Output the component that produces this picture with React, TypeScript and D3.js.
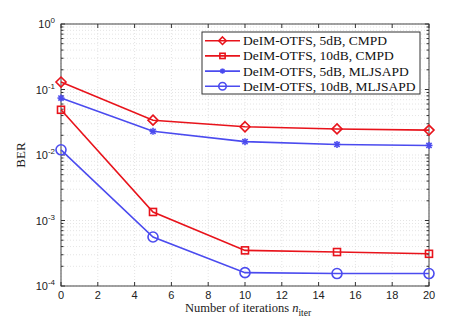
import React from "react";
import * as d3 from "d3";

const iterations = [0, 5, 10, 15, 20];
const cmpd5 = [0.13, 0.034, 0.027, 0.025, 0.024];
const cmpd10 = [0.049, 0.00135, 0.00035, 0.00033, 0.00031];
const mlj5 = [0.074, 0.023, 0.016, 0.0145, 0.014];
const mlj10 = [0.012, 0.00056, 0.00016, 0.000155, 0.000155];
const seriesNames = [
  "DeIM-OTFS, 5dB, CMPD",
  "DeIM-OTFS, 10dB, CMPD",
  "DeIM-OTFS, 5dB, MLJSAPD",
  "DeIM-OTFS, 10dB, MLJSAPD",
];
const xTicks = [0, 2, 4, 6, 8, 10, 12, 14, 16, 18, 20];
const yExps = [0, -1, -2, -3, -4];

const RED = "#e8131b";
const BLUE = "#4b4bef";

const W = 474, H = 324;
const L = 61, R = 429, T = 24, B = 286;

export default function App() {
  const x = d3.scaleLinear().domain([0, 20]).range([L, R]);
  const y = d3.scaleLog().domain([1e-4, 1]).range([B, T]);
  const line = d3.line<[number, number]>().x(d => x(d[0])).y(d => y(d[1]));

  const series = [
    { vals: cmpd5, color: RED, marker: "diamond" },
    { vals: cmpd10, color: RED, marker: "square" },
    { vals: mlj5, color: BLUE, marker: "star" },
    { vals: mlj10, color: BLUE, marker: "circle" },
  ];

  const minor: number[] = [];
  for (let e = -4; e < 0; e++) for (let k = 2; k <= 9; k++) minor.push(k * Math.pow(10, e));

  const marker = (type: string, cx: number, cy: number, color: string, key: string, s = 1) => {
    if (type === "diamond")
      return <path key={key} d={`M${cx},${cy - 5 * s}L${cx + 5 * s},${cy}L${cx},${cy + 5 * s}L${cx - 5 * s},${cy}Z`} fill="none" stroke={color} strokeWidth={1.6} />;
    if (type === "square")
      return <rect key={key} x={cx - 3.5 * s} y={cy - 3.5 * s} width={7 * s} height={7 * s} fill="none" stroke={color} strokeWidth={1.6} />;
    if (type === "circle")
      return <circle key={key} cx={cx} cy={cy} r={5 * s} fill="none" stroke={color} strokeWidth={1.6} />;
    return (
      <g key={key} stroke={color} strokeWidth={1.6}>
        <line x1={cx - 3.5 * s} y1={cy} x2={cx + 3.5 * s} y2={cy} />
        <line x1={cx} y1={cy - 3.5 * s} x2={cx} y2={cy + 3.5 * s} />
        <line x1={cx - 2.6 * s} y1={cy - 2.6 * s} x2={cx + 2.6 * s} y2={cy + 2.6 * s} />
        <line x1={cx - 2.6 * s} y1={cy + 2.6 * s} x2={cx + 2.6 * s} y2={cy - 2.6 * s} />
      </g>
    );
  };

  const legX = 202, legY = 32, legW = 218, legH = 62;

  return (
    <svg width={W} height={H} style={{ position: "absolute", left: 0, top: 0 }}>
      <rect x={0} y={0} width={W} height={H} fill="#fff" />
      {/* grid */}
      <g stroke="#d8d8d8" strokeWidth={0.7} strokeDasharray="1,2">
        {xTicks.map(t => <line key={"gx" + t} x1={x(t)} x2={x(t)} y1={T} y2={B} />)}
        {minor.map((v, i) => <line key={"gm" + i} x1={L} x2={R} y1={y(v)} y2={y(v)} />)}
        {yExps.map(e => <line key={"gy" + e} x1={L} x2={R} y1={y(Math.pow(10, e))} y2={y(Math.pow(10, e))} />)}
      </g>
      {/* frame */}
      <rect x={L} y={T} width={R - L} height={B - T} fill="none" stroke="#444" strokeWidth={1} />
      {/* ticks */}
      <g stroke="#333" strokeWidth={1}>
        {xTicks.map(t => (
          <g key={"xt" + t}>
            <line x1={x(t)} x2={x(t)} y1={B} y2={B - 4} />
            <line x1={x(t)} x2={x(t)} y1={T} y2={T + 4} />
          </g>
        ))}
        {yExps.map(e => (
          <g key={"yt" + e}>
            <line x1={L} x2={L + 4} y1={y(Math.pow(10, e))} y2={y(Math.pow(10, e))} />
            <line x1={R} x2={R - 4} y1={y(Math.pow(10, e))} y2={y(Math.pow(10, e))} />
          </g>
        ))}
        {minor.map((v, i) => (
          <g key={"ym" + i}>
            <line x1={L} x2={L + 2.5} y1={y(v)} y2={y(v)} />
            <line x1={R} x2={R - 2.5} y1={y(v)} y2={y(v)} />
          </g>
        ))}
      </g>
      {/* tick labels */}
      <g fontFamily="Liberation Sans, Arial, sans-serif" fontSize={11} fill="#222">
        {xTicks.map(t => (
          <text key={"xl" + t} x={x(t)} y={B + 13} textAnchor="middle">{t}</text>
        ))}
        {yExps.map(e => (
          <text key={"yl" + e} x={L - 6} y={y(Math.pow(10, e)) + 4} textAnchor="end">
            10<tspan dy={-5} fontSize={8}>{e}</tspan>
          </text>
        ))}
      </g>
      {/* axis labels */}
      <text x={(L + R) / 2 + 3} y={312} textAnchor="middle" fontFamily="Liberation Serif, Times New Roman, serif" fontSize={12.5} fill="#222">
        Number of iterations <tspan fontStyle="italic">n</tspan><tspan dy={4} fontSize={9.5}>iter</tspan>
      </text>
      <text transform={`translate(${L - 36},${(T + B) / 2}) rotate(-90)`} textAnchor="middle" fontFamily="Liberation Serif, Times New Roman, serif" fontSize={13} fill="#222">BER</text>
      {/* series */}
      {series.map((s, si) => {
        const pts = iterations.map((it, i) => [it, s.vals[i]] as [number, number]);
        return (
          <g key={"s" + si}>
            <path d={line(pts) || ""} fill="none" stroke={s.color} strokeWidth={1.6} />
            {pts.map((p, i) => marker(s.marker, x(p[0]), y(p[1]), s.color, "m" + si + "-" + i))}
          </g>
        );
      })}
      {/* legend */}
      <rect x={legX} y={legY} width={legW} height={legH} fill="#fff" stroke="#333" strokeWidth={1} />
      {series.map((s, i) => {
        const cy = legY + 8.7 + i * 15.2;
        return (
          <g key={"lg" + i}>
            <line x1={legX + 3} x2={legX + 38} y1={cy} y2={cy} stroke={s.color} strokeWidth={1.6} />
            {marker(s.marker, legX + 20.5, cy, s.color, "lm" + i, 0.75)}
            <text x={legX + 41} y={cy + 4.5} fontFamily="Liberation Serif, Times New Roman, serif" fontSize={13.5} fill="#111">{seriesNames[i]}</text>
          </g>
        );
      })}
    </svg>
  );
}
